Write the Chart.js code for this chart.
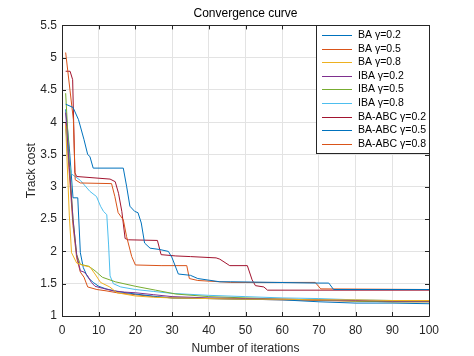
<!DOCTYPE html>
<html>
<head>
<meta charset="utf-8">
<script src="https://cdn.jsdelivr.net/npm/chart.js@4.4.1/dist/chart.umd.min.js"></script>
<style>
html,body{margin:0;padding:0;background:#fff;}
#wrap{width:474px;height:356px;}
</style>
</head>
<body>
<div id="wrap"><canvas id="c" width="474" height="356"></canvas></div>
<script>
// ---- data ----
const seriesLabels = ['BA \u03b3=0.2','BA \u03b3=0.5','BA \u03b3=0.8','IBA \u03b3=0.2','IBA \u03b3=0.5','IBA \u03b3=0.8','BA-ABC \u03b3=0.2','BA-ABC \u03b3=0.5','BA-ABC \u03b3=0.8'];
const seriesColors = ['#0072BD','#D95319','#EDB120','#7E2F8E','#77AC30','#4DBEEE','#A2142F','#0072BD','#D95319'];

const ba02X = [1,3,4.5,6,7,7.6,8.5,16.7,17.6,18.5,19.8,20.7,21.6,22.5,24,26.6,29,30,31.7,35,37,43,46,70,72.7,74,100];
const ba02Y = [4.28,4.23,4.04,3.73,3.5,3.47,3.29,3.29,3.01,2.70,2.62,2.6,2.44,2.13,2.05,2.03,2.0,1.9,1.65,1.63,1.58,1.53,1.53,1.51,1.51,1.41,1.41];

const ba05X = [1,3.1,3.6,5,13.5,14.4,15.3,16.7,17.6,19,20,27,34,34.7,37,46,69,70.5,100];
const ba05Y = [5.08,4.04,3.11,3.06,3.05,2.85,2.6,2.49,2.23,1.92,1.79,1.78,1.78,1.58,1.55,1.52,1.52,1.42,1.41];

const ba08X = [1,2,2.6,4,6,7.6,9,10.5,13,15,20,25,30,40,50,60,70,80,90,100];
const ba08Y = [3.95,2.55,1.98,1.82,1.78,1.76,1.65,1.52,1.45,1.36,1.31,1.29,1.28,1.27,1.26,1.26,1.25,1.25,1.24,1.24];

const iba02X = [1,2,3,4,5,6,7,8,9,11,14,17,20,25,30,40,50,60,70,80,90,100];
const iba02Y = [4.15,3.3,2.5,1.95,1.7,1.68,1.62,1.52,1.46,1.43,1.39,1.37,1.36,1.33,1.3,1.28,1.27,1.26,1.25,1.24,1.23,1.23];

const iba05X = [1,2,3,4,5,7.3,9,11,14.5,20,25.5,31,40,50,60,70,80,90,100];
const iba05Y = [4.45,3.4,2.5,1.95,1.8,1.77,1.7,1.6,1.53,1.46,1.40,1.34,1.30,1.28,1.26,1.25,1.23,1.22,1.22];

const iba08X = [1,2,2.6,5,7.6,9.4,10.5,11.3,12.2,12.7,13.1,14,16,20,25,30,40,50,60,70,80,90,100];
const iba08Y = [3.9,3.35,3.2,3.1,2.93,2.85,2.7,2.62,2.57,2.1,1.62,1.5,1.45,1.41,1.38,1.35,1.32,1.30,1.28,1.27,1.25,1.24,1.24];

const abc02X = [1,2.2,2.9,3.5,4,13.1,14.5,15.4,16.3,17.2,18.1,26,27,31,35,42,43,45.7,50.5,51.8,52.7,55,56,100];
const abc02Y = [4.79,4.79,4.66,3.22,3.16,3.12,3.08,2.9,2.62,2.2,2.18,2.17,1.95,1.93,1.92,1.9,1.88,1.78,1.78,1.56,1.47,1.45,1.40,1.40];

const abc05X = [1,2,3,4.3,5,5.8,7,8.5,10,12,15,20,26,30,40,50,60,70,80,90,100];
const abc05Y = [4.2,3.6,2.83,2.83,1.98,1.75,1.6,1.52,1.46,1.42,1.38,1.34,1.3,1.28,1.27,1.26,1.25,1.22,1.2,1.2,1.19];

const abc08X = [1,2,3,4,5,6,7,9.5,12,15,20,25,30,40,50,60,70,80,90,100];
const abc08Y = [4.0,3.2,2.4,1.9,1.68,1.6,1.45,1.41,1.39,1.36,1.33,1.3,1.28,1.27,1.26,1.25,1.24,1.23,1.22,1.22];

const xTicks = [0,10,20,30,40,50,60,70,80,90,100];
const yTicks = [1,1.5,2,2.5,3,3.5,4,4.5,5,5.5];

// ---- build ----
const allX = [ba02X,ba05X,ba08X,iba02X,iba05X,iba08X,abc02X,abc05X,abc08X];
const allY = [ba02Y,ba05Y,ba08Y,iba02Y,iba05Y,iba08Y,abc02Y,abc05Y,abc08Y];
const datasets = seriesLabels.map((lab,i)=>({
  label: lab,
  data: allX[i].map((x,j)=>({x:x,y:allY[i][j]})),
  borderColor: seriesColors[i],
  backgroundColor: seriesColors[i],
  borderWidth: 1,
  pointRadius: 0,
  tension: 0,
  fill: false
}));

const FONT = '"Liberation Sans", Arial, Helvetica, sans-serif';
const AX = '#262626';

const boxPlugin = {
  id:'boxPlugin',
  afterDraw(chart){
    const ctx = chart.ctx, a = chart.chartArea;
    const xs = chart.scales.x, ys = chart.scales.y;
    ctx.save();
    ctx.strokeStyle = AX; ctx.lineWidth = 1;
    ctx.beginPath();
    ctx.rect(Math.round(a.left)+0.5, Math.round(a.top)+0.5, Math.round(a.right-a.left), Math.round(a.bottom-a.top));
    ctx.stroke();
    // inward ticks
    ctx.beginPath();
    xTicks.forEach(v=>{
      const px = Math.round(xs.getPixelForValue(v))+0.5;
      ctx.moveTo(px,a.bottom); ctx.lineTo(px,a.bottom-4);
      ctx.moveTo(px,a.top); ctx.lineTo(px,a.top+4);
    });
    yTicks.forEach(v=>{
      const py = Math.round(ys.getPixelForValue(v))+0.5;
      ctx.moveTo(a.left,py); ctx.lineTo(a.left+4,py);
      ctx.moveTo(a.right,py); ctx.lineTo(a.right-4,py);
    });
    ctx.stroke();
    // legend
    const lx0 = 316.5, ly0 = Math.round(a.top)+0.5, lx1 = Math.round(a.right)+0.5, ly1 = 153.5;
    ctx.fillStyle = '#fff';
    ctx.fillRect(lx0,ly0,lx1-lx0,ly1-ly0);
    ctx.strokeStyle = AX; ctx.lineWidth = 1;
    ctx.strokeRect(lx0,ly0,lx1-lx0,ly1-ly0);
    ctx.font = '10.5px ' + FONT;
    ctx.textBaseline = 'middle';
    ctx.textAlign = 'left';
    chart.data.datasets.forEach((ds,i)=>{
      const y = Math.round(35 + i*13.6)+0.5;
      ctx.strokeStyle = ds.borderColor; ctx.lineWidth = 1;
      ctx.beginPath(); ctx.moveTo(322,y); ctx.lineTo(352,y); ctx.stroke();
      ctx.fillStyle = '#000';
      ctx.fillText(ds.label, 358, y);
    });
    ctx.restore();
  }
};

new Chart(document.getElementById('c'), {
  type:'line',
  data:{datasets},
  options:{
    responsive:false,
    animation:false,
    devicePixelRatio:1,
    layout:{padding:{left:0,right:45,top:0,bottom:0}},
    plugins:{
      legend:{display:false},
      tooltip:{enabled:false},
      title:{display:true, text:'Convergence curve', fullSize:false, color:'#000',
        font:{family:FONT,size:12,weight:'normal'}, padding:{top:6,bottom:5}}
    },
    scales:{
      x:{type:'linear',min:0,max:100,
        afterBuildTicks(s){s.ticks = xTicks.map(v=>({value:v}));},
        afterFit(s){s.height = 40;},
        grid:{color:'#e3e3e3',drawTicks:false},
        border:{display:false},
        ticks:{color:AX,padding:7,font:{family:FONT,size:12},maxRotation:0,callback:v=>String(v)},
        title:{display:true,text:'Number of iterations',color:AX,font:{family:FONT,size:12},padding:{top:5,bottom:0}}
      },
      y:{type:'linear',min:1,max:5.5,
        afterBuildTicks(s){s.ticks = yTicks.map(v=>({value:v}));},
        afterFit(s){s.width = 62;},
        grid:{color:'#e3e3e3',drawTicks:false},
        border:{display:false},
        ticks:{color:AX,padding:5,font:{family:FONT,size:12},callback:v=>String(v)},
        title:{display:true,text:'Track cost',color:AX,font:{family:FONT,size:12},padding:{top:24,bottom:0}}
      }
    }
  },
  plugins:[boxPlugin]
});
</script>
</body>
</html>
